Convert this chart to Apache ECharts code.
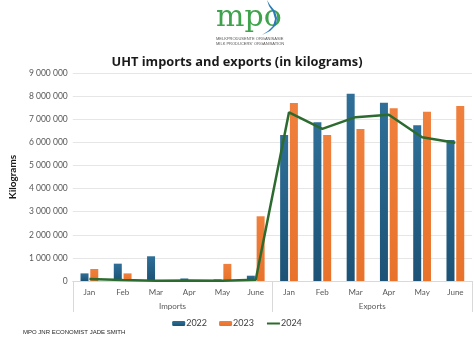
<!DOCTYPE html>
<html>
<head>
<meta charset="utf-8">
<script src="https://cdn.jsdelivr.net/npm/echarts@6/dist/echarts.min.js"></script>
<style>
  html, body { margin: 0; padding: 0; background: #ffffff; }
  #chart { width: 474px; height: 338px; }
</style>
</head>
<body>
<div id="chart"></div>
<script>
// UHT trade volumes in kilograms, imports then exports, by month
const months = ['Jan', 'Feb', 'Mar', 'Apr', 'May', 'June', 'Jan', 'Feb', 'Mar', 'Apr', 'May', 'June'];
const groups = ['Imports', 'Exports'];
const seriesNames = ['2022', '2023', '2024'];
const values2022 = [330000, 750000, 1070000, 110000, 70000, 230000, 6320000, 6870000, 8100000, 7710000, 6740000, 6100000];
const values2023 = [520000, 330000, 0, 0, 740000, 2800000, 7700000, 6320000, 6580000, 7480000, 7320000, 7570000];
const values2024 = [90000, 40000, 10000, 20000, 10000, 50000, 7300000, 6580000, 7090000, 7190000, 6220000, 5980000];

const chart = echarts.init(document.getElementById('chart'), null, { renderer: 'canvas' });

const fontFamily = 'Lato, "Open Sans", sans-serif';
const spaced = v => String(v).replace(/\B(?=(\d{3})+(?!\d))/g, ' ');

chart.setOption({
  backgroundColor: '#ffffff',
  animation: false,
  title: {
    text: 'UHT imports and exports (in kilograms)',
    left: 'center',
    top: 51,
    textStyle: { fontFamily: '"Open Sans", sans-serif', fontSize: 12.8, fontWeight: 'bold', color: '#1a1a1a' }
  },
  legend: {
    data: [
      { name: seriesNames[0] },
      { name: seriesNames[1] },
      { name: seriesNames[2], itemStyle: { opacity: 0 } }
    ],
    top: 314,
    left: 'center',
    itemWidth: 13,
    itemHeight: 5,
    itemGap: 12,
    textStyle: { fontFamily: fontFamily, fontSize: 9, color: '#404040', padding: [0, 0, 0, -4] }
  },
  grid: { left: 62, right: 2, top: 73, bottom: 57 },
  xAxis: [
    {
      type: 'category',
      data: months,
      axisLine: { lineStyle: { color: '#d9d9d9' } },
      axisTick: { show: false },
      axisLabel: { interval: 0, margin: 7, fontFamily: fontFamily, fontSize: 8, color: '#595959' }
    },
    {
      type: 'category',
      data: groups,
      position: 'bottom',
      axisLine: { show: false },
      axisTick: { show: true, length: 31, lineStyle: { color: '#d9d9d9' } },
      axisLabel: { interval: 0, margin: 21, fontFamily: fontFamily, fontSize: 8, color: '#595959' }
    }
  ],
  yAxis: {
    type: 'value',
    min: 0,
    max: 9000000,
    interval: 1000000,
    name: 'Kilograms',
    nameLocation: 'middle',
    nameRotate: 90,
    nameGap: 52,
    nameTextStyle: { fontFamily: fontFamily, fontSize: 10, fontWeight: 'bold', color: '#1a1a1a' },
    axisLine: { show: false },
    axisTick: { show: false },
    axisLabel: { formatter: spaced, fontFamily: fontFamily, fontSize: 8.5, color: '#595959', margin: 5 },
    splitLine: { lineStyle: { color: '#e6e6e6' } }
  },
  series: [
    {
      name: seriesNames[0],
      type: 'bar',
      data: values2022,
      barWidth: 8,
      barGap: '22%',
      itemStyle: {
        color: new echarts.graphic.LinearGradient(0, 0, 0, 1, [
          { offset: 0, color: '#2f6f98' },
          { offset: 1, color: '#1c5275' }
        ])
      }
    },
    {
      name: seriesNames[1],
      type: 'bar',
      data: values2023,
      barWidth: 8,
      itemStyle: {
        color: new echarts.graphic.LinearGradient(0, 0, 0, 1, [
          { offset: 0, color: '#f0803d' },
          { offset: 1, color: '#e8722a' }
        ])
      }
    },
    {
      name: seriesNames[2],
      type: 'line',
      data: values2024,
      symbol: 'none',
      itemStyle: { color: '#2c6b2f' },
      lineStyle: { color: '#2c6b2f', width: 2.5 }
    }
  ],
  graphic: [
    // MPO logo
    {
      type: 'text', x: 216, y: 3,
      style: { text: 'mpo', font: '30px "DejaVu Serif", serif', fill: '#3fa34d' }
    },
    {
      type: 'polygon',
      shape: { points: [[267, 0], [269, 6], [273, 12], [275, 19], [273, 26], [268, 31], [262, 35], [270, 31], [276, 25], [277, 18], [275, 11], [270, 5]] },
      style: { fill: '#2a79b8' }
    },
    {
      type: 'text', x: 216, y: 37,
      style: { text: 'MELKPRODUSENTE ORGANISASIE', font: '4px sans-serif', fill: '#555555' }
    },
    {
      type: 'text', x: 216, y: 42,
      style: { text: 'MILK PRODUCERS\' ORGANISATION', font: '4px sans-serif', fill: '#555555' }
    },
    // footer credit
    {
      type: 'text', x: 23, y: 329,
      style: { text: 'MPO JNR ECONOMIST JADE SMITH', font: '6px "Liberation Sans Narrow", "Liberation Sans", sans-serif', fill: '#262626' }
    }
  ]
});
</script>
</body>
</html>
